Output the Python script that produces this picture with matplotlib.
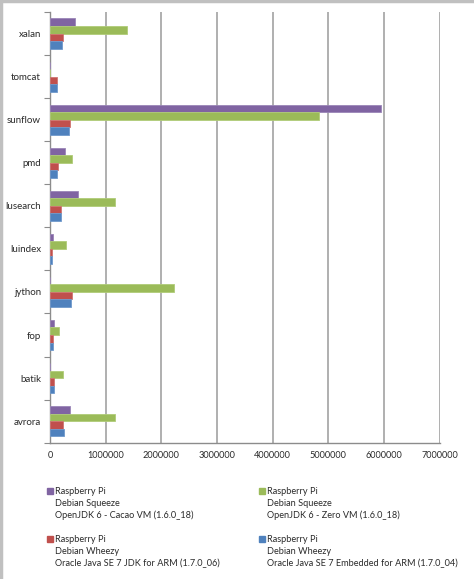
import matplotlib
matplotlib.use('Agg')
import matplotlib.pyplot as plt
import numpy as np
from matplotlib.patches import Rectangle

plt.rcParams['font.family'] = ['Lato', 'DejaVu Sans']

# --- data ---
benchmarks = ['avrora', 'batik', 'fop', 'jython', 'luindex',
              'lusearch', 'pmd', 'sunflow', 'tomcat', 'xalan']
cacao_vm = [366000, 0, 72000, 0, 60000, 510000, 270000, 5950000, 0, 455000]
zero_vm = [1175000, 234000, 162000, 2230000, 282000, 1163000, 390000, 4830000, 0, 1380000]
jdk7_arm = [240000, 72000, 54000, 390000, 30000, 192000, 138000, 366000, 126000, 228000]
jdk7_embedded = [246000, 72000, 54000, 378000, 30000, 204000, 126000, 348000, 126000, 216000]

series_labels = [
    ['Raspberry Pi', 'Debian Squeeze', 'OpenJDK 6 - Cacao VM (1.6.0_18)'],
    ['Raspberry Pi', 'Debian Squeeze', 'OpenJDK 6 - Zero VM (1.6.0_18)'],
    ['Raspberry Pi', 'Debian Wheezy', 'Oracle Java SE 7 JDK for ARM (1.7.0_06)'],
    ['Raspberry Pi', 'Debian Wheezy', 'Oracle Java SE 7 Embedded for ARM (1.7.0_04)'],
]
xticks = [0, 1000000, 2000000, 3000000, 4000000, 5000000, 6000000, 7000000]

colors = ['#8064A2', '#9BBB59', '#C0504D', '#4F81BD']
edges = ['#9A85B8', '#B0CC78', '#D07572', '#7099CC']

fig = plt.figure(figsize=(4.74, 5.79), dpi=100)
ax = fig.add_axes([50/474, 1-442.7/579, (439.7-50)/474, (442.7-12)/579])

y = np.arange(len(benchmarks))
h = 0.175
offsets = [1.5*h, 0.5*h, -0.5*h, -1.5*h]
for vals, off, c, e in zip([cacao_vm, zero_vm, jdk7_arm, jdk7_embedded], offsets, colors, edges):
    ax.barh(y + off, vals, height=h, color=c, edgecolor=e, linewidth=0.6, zorder=3)

ax.set_ylim(-0.5, len(benchmarks) - 0.5)
ax.set_xlim(0, 7000000)
ax.set_xticks(xticks)
ax.set_xticklabels([str(v) for v in xticks], fontsize=6.6, color='#2a2a2a')
ax.set_yticks(y)
ax.set_yticklabels(benchmarks, fontsize=7, color='#2a2a2a')
ax.tick_params(axis='y', length=0, pad=6.5)
ax.tick_params(axis='x', length=0, pad=6)
# category boundary tick marks on the left axis
ax.set_yticks(np.arange(-0.5, len(benchmarks)), minor=True)
ax.tick_params(axis='y', which='minor', length=4, width=0.8, color='#8c8c8c', direction='out')

ax.grid(axis='x', color='#9a9a9a', linewidth=1.1, zorder=0)
for s in ['top', 'right']:
    ax.spines[s].set_visible(False)
ax.spines['left'].set_color('#8c8c8c')
ax.spines['bottom'].set_color('#8c8c8c')
ax.spines['left'].set_linewidth(1)
ax.spines['bottom'].set_linewidth(1)

# legend drawn by hand: square on first line, three lines of text
legend_pos = [(47, 491), (259, 491), (47, 539.3), (259, 539.3)]
for (lx, ly), lines, c in zip(legend_pos, series_labels, colors):
    fig.patches.append(Rectangle((lx/474, 1-(ly+3)/579), 6/474, 6/579,
                                 transform=fig.transFigure, color=c, figure=fig))
    for i, line in enumerate(lines):
        fig.text((lx+8)/474, 1-(ly+i*12)/579, line, fontsize=6.6,
                 color='#2a2a2a', va='center', ha='left')

# light grey frame on top and left of the screenshot
fig.add_artist(plt.Line2D([0, 1], [1-1/579, 1-1/579], color='#C0C0C0', linewidth=2.5,
                          transform=fig.transFigure))
fig.add_artist(plt.Line2D([1/474, 1/474], [0, 1], color='#C0C0C0', linewidth=2.5,
                          transform=fig.transFigure))

fig.savefig('out.png', dpi=100)
